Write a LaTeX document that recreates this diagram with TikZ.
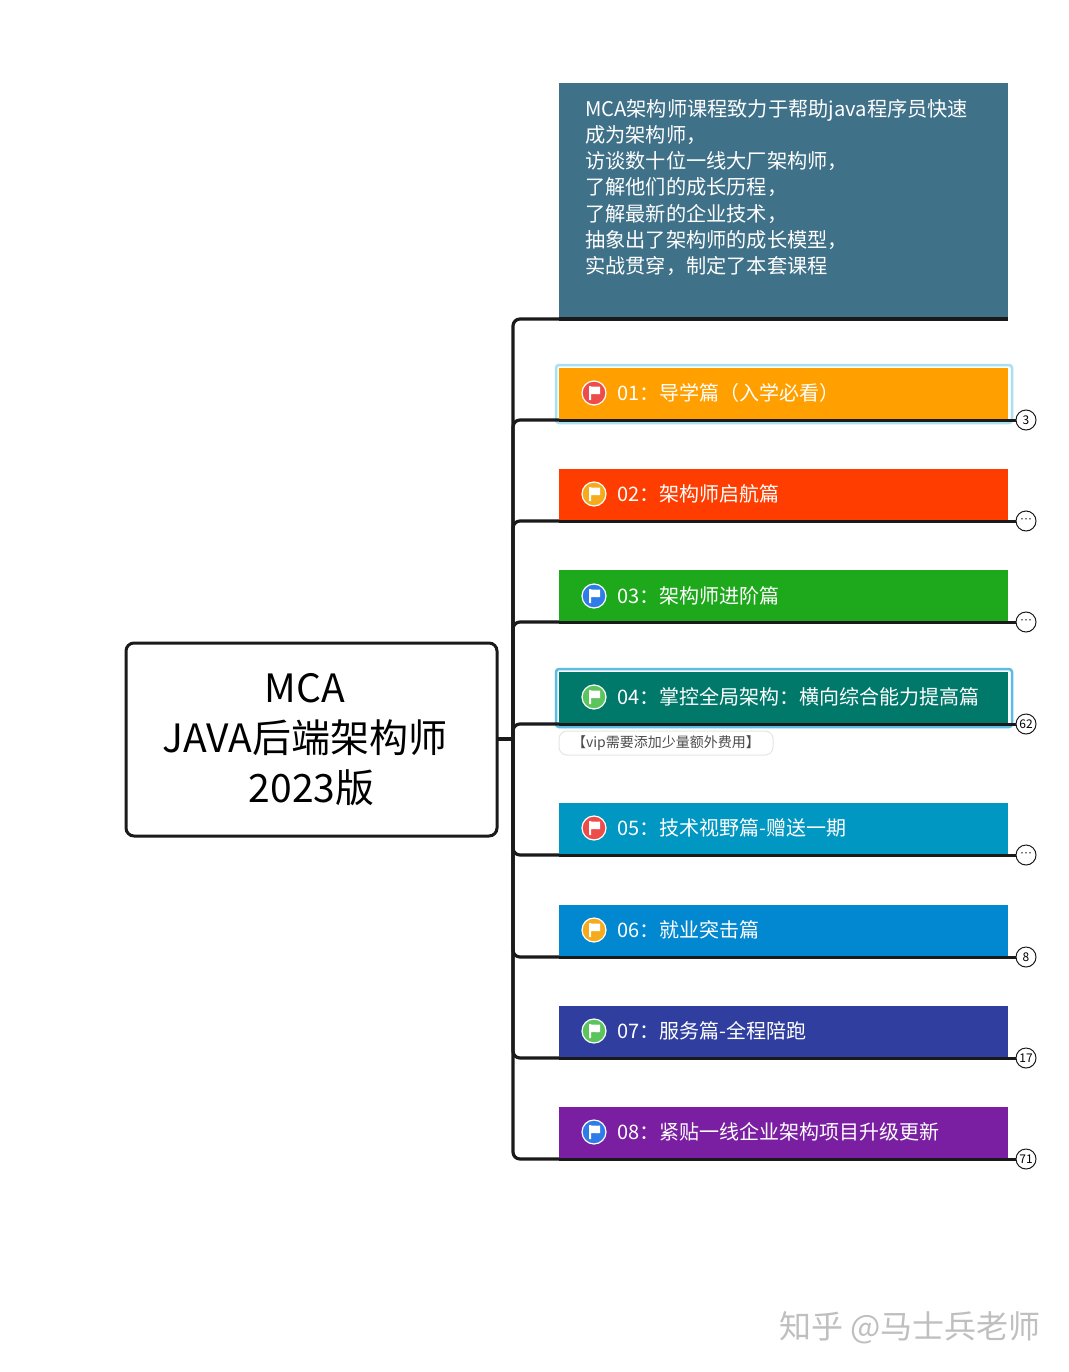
\documentclass[tikz,border=0pt]{standalone}
\usepackage{fontspec}
\setmainfont{Noto Sans CJK SC}
\newfontfamily\dotfont{Liberation Sans}

\definecolor{linedark}{HTML}{1A1A1A}
\definecolor{introcol}{HTML}{3F7189}
\definecolor{flagred}{HTML}{EE4B4B}
\definecolor{flagyellow}{HTML}{F5AB1B}
\definecolor{flagblue}{HTML}{2F7CE8}
\definecolor{flaggreen}{HTML}{5CC45C}
\definecolor{topicone}{HTML}{FF9F00}
\definecolor{topictwo}{HTML}{FF3D00}
\definecolor{topicthree}{HTML}{1EA81C}
\definecolor{topicfour}{HTML}{00796B}
\definecolor{topicfive}{HTML}{0097C2}
\definecolor{topicsix}{HTML}{0288D1}
\definecolor{topicseven}{HTML}{303F9F}
\definecolor{topiceight}{HTML}{7B1FA2}
\definecolor{selectlight}{HTML}{A8E0F0}
\definecolor{selectdeep}{HTML}{5BBCE4}

\tikzset{
  topicbox/.style={fill=#1,minimum width=449pt,minimum height=52pt,inner sep=0pt,outer sep=0pt,anchor=north west},
  topictext/.style={text=white,anchor=west,inner sep=0pt,font=\fontsize{20}{26}\selectfont},
  flagicon/.style={circle,draw=white,line width=1.2pt,fill=#1,minimum size=24pt,inner sep=0pt,
    path picture={
      \fill[white,shift={(path picture bounding box.center)}]
        (-5,-7) -- (-3,-7) -- (-3,-6.5) .. controls (0,-7.5) and (2,-5.5) .. (6,-6.5) -- (6,1) .. controls (2,2) and (0,0) .. (-3,1) -- (-3,7) -- (-5,7) -- cycle;
    }},
  countmark/.style={circle,draw=linedark,line width=1pt,fill=white,minimum size=20pt,inner sep=0pt,
    font=\fontsize{12}{12}\selectfont},
  selectmark/.style={draw=#1,line width=2.5pt,rounded corners=3pt,minimum width=456pt,minimum height=58pt,
    inner sep=0pt,outer sep=0pt,anchor=north west},
  branch/.style={draw=linedark,line width=3.2pt,rounded corners=7pt}
}

\begin{document}
\begin{tikzpicture}[x=1pt,y=-1pt]

  \useasboundingbox[fill=white] (0,0) rectangle (1068,1372);

  \node[draw=linedark,line width=3pt,rounded corners=8pt,fill=white,minimum width=371pt,minimum height=193pt,
    inner sep=0pt,outer sep=0pt,align=center,anchor=north west,font=\fontsize{39}{50}\selectfont] (root) at (126,643)
    {MCA\rule{13pt}{0pt}\\JAVA后端架构师\rule{13pt}{0pt}\\2023版};

  \node[fill=introcol,minimum width=449pt,minimum height=236pt,inner sep=0pt,outer sep=0pt,anchor=north west] (intro) at (559,83) {};
  \node[text=white,anchor=north west,inner sep=0pt,align=left,font=\fontsize{20.2}{26.2}\selectfont] (introtext) at (585,99)
    {MCA架构师课程致力于帮助java程序员快速\\成为架构师，\\访谈数十位一线大厂架构师，\\了解他们的成长历程，\\了解最新的企业技术，\\抽象出了架构师的成长模型，\\实战贯穿，制定了本套课程};

  \node[selectmark=selectlight] (sel1) at (556,365) {};
  \node[selectmark=selectdeep]  (sel4) at (556,669) {};

  \node[topicbox=topicone]   (t1) at (559,368) {};
  \node[topicbox=topictwo]   (t2) at (559,469) {};
  \node[topicbox=topicthree] (t3) at (559,570) {};
  \node[topicbox=topicfour]  (t4) at (559,672) {};
  \node[topicbox=topicfive]  (t5) at (559,803) {};
  \node[topicbox=topicsix]   (t6) at (559,905) {};
  \node[topicbox=topicseven] (t7) at (559,1006) {};
  \node[topicbox=topiceight] (t8) at (559,1107) {};

  \node[flagicon=flagred]    (f1) at (594,393) {};
  \node[flagicon=flagyellow] (f2) at (594,494) {};
  \node[flagicon=flagblue]   (f3) at (594,596) {};
  \node[flagicon=flaggreen]  (f4) at (594,697) {};
  \node[flagicon=flagred]    (f5) at (594,828) {};
  \node[flagicon=flagyellow] (f6) at (594,930) {};
  \node[flagicon=flaggreen]  (f7) at (594,1031) {};
  \node[flagicon=flagblue]   (f8) at (594,1132) {};

  \begin{scope}[every node/.style={topictext}]
    \node (l1) at (617,393) {01：导学篇（入学必看）};
    \node (l2) at (617,494) {02：架构师启航篇};
    \node (l3) at (617,596) {03：架构师进阶篇};
    \node (l4) at (617,697) {04：掌控全局架构：横向综合能力提高篇};
    \node (l5) at (617,828) {05：技术视野篇-赠送一期};
    \node (l6) at (617,930) {06：就业突击篇};
    \node (l7) at (617,1031) {07：服务篇-全程陪跑};
    \node (l8) at (617,1132) {08：紧贴一线企业架构项目升级更新};
  \end{scope}

  \node[draw=black!10,line width=1pt,rounded corners=8pt,minimum width=214pt,minimum height=24pt,inner sep=0pt,
    outer sep=0pt,text=black!70,font=\fontsize{14}{14}\selectfont,anchor=north west] (vip) at (559,731) {【vip需要添加少量额外费用】};

  \coordinate (rootjoin) at (513,739);
  \draw[branch] (root.east |- rootjoin) -- (rootjoin);
  \draw[branch] (rootjoin) |- (intro.south west);
  \draw[branch] (rootjoin) |- (t1.south west);
  \draw[branch] (rootjoin) |- (t2.south west);
  \draw[branch] (rootjoin) |- (t3.south west);
  \draw[branch] (rootjoin) |- (t4.south west);
  \draw[branch] (rootjoin) |- (t5.south west);
  \draw[branch] (rootjoin) |- (t6.south west);
  \draw[branch] (rootjoin) |- (t7.south west);
  \draw[branch] (rootjoin) |- (t8.south west);

  \draw[branch] (intro.south west) -- (intro.south east);

  \begin{scope}[every node/.style={countmark}]
    \node (c1) at (1026,420) {3};
    \node (c2) at (1026,521) {\dotfont ···};
    \node (c3) at (1026,622) {\dotfont ···};
    \node (c4) at (1026,724) {62};
    \node (c5) at (1026,855) {\dotfont ···};
    \node (c6) at (1026,957) {8};
    \node (c7) at (1026,1058) {17};
    \node (c8) at (1026,1159) {71};
  \end{scope}

  \begin{scope}[every edge/.style={draw=linedark,line width=3pt}]
    \path (t1.south west) edge (t1.south west -| c1.west);
    \path (t2.south west) edge (t2.south west -| c2.west);
    \path (t3.south west) edge (t3.south west -| c3.west);
    \path (t4.south west) edge (t4.south west -| c4.west);
    \path (t5.south west) edge (t5.south west -| c5.west);
    \path (t6.south west) edge (t6.south west -| c6.west);
    \path (t7.south west) edge (t7.south west -| c7.west);
    \path (t8.south west) edge (t8.south west -| c8.west);
  \end{scope}

  \node[text=black!25,anchor=east,inner sep=0pt,font=\fontsize{32}{32}\selectfont] (mark) at (1041,1328) {知乎 @马士兵老师};

\end{tikzpicture}
\end{document}
